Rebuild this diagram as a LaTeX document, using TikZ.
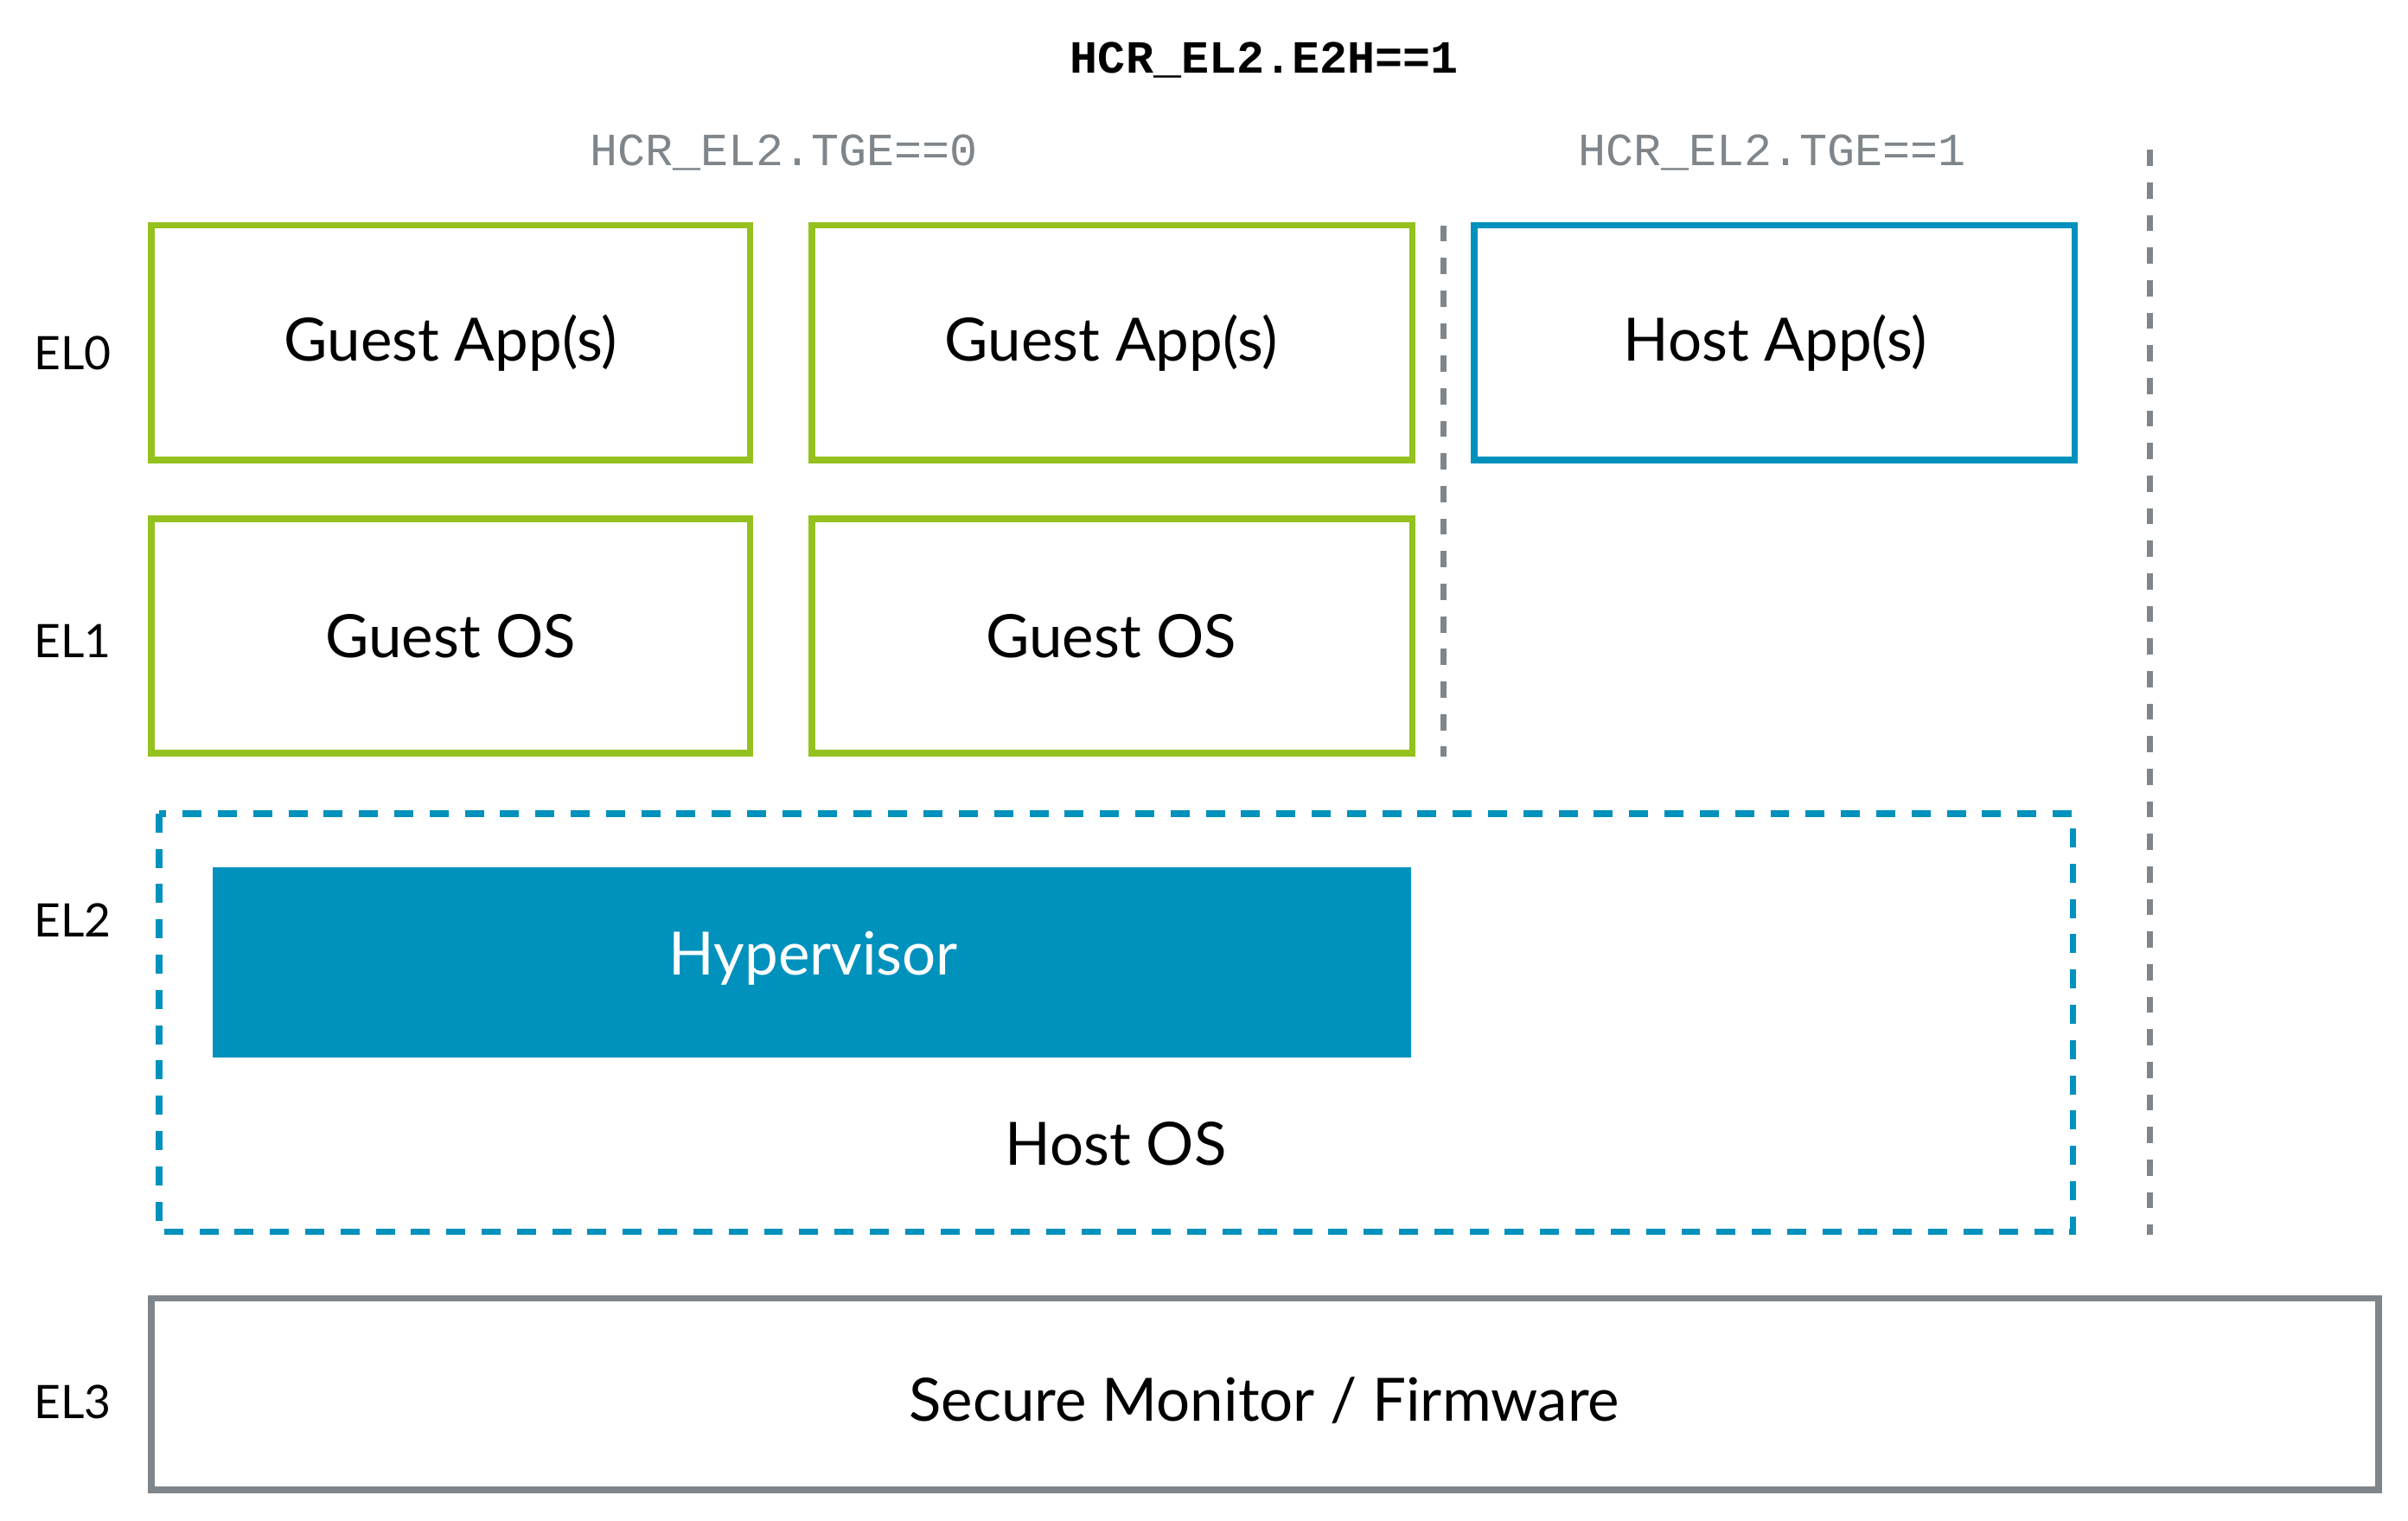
\documentclass[tikz,border=0pt]{standalone}
\usepackage{fontspec}
\setmainfont{Lato}
\newfontfamily\monofont{Liberation Mono}
\definecolor{armgreen}{HTML}{95C11F}
\definecolor{armblue}{HTML}{0091BD}
\definecolor{armgray}{HTML}{7F868B}
\begin{document}
\begin{tikzpicture}[x=0.01cm,y=-0.01cm,
  box/.style={draw=#1,line width=1.2pt},
  lbl/.style={font=\fontsize{11}{13}\selectfont},
  el/.style={font=\fontsize{8.5}{10}\selectfont},
  vsep/.style={draw=armgray,line width=1.1pt,dash pattern=on 3pt off 3pt}]
\useasboundingbox (0,0) rectangle (1560,985);
% top labels
\node[font=\monofont\bfseries\fontsize{8.5}{10}\selectfont] (e2h) at (819,39) {HCR\_EL2.E2H==1};
\node[font=\monofont\fontsize{8.5}{10}\selectfont,text=armgray] (tge0) at (508,99) {HCR\_EL2.TGE==0};
\node[font=\monofont\fontsize{8.5}{10}\selectfont,text=armgray] (tge1) at (1148,99) {HCR\_EL2.TGE==1};
% exception levels
\node[el] (el0) at (47,229) {EL0};
\node[el] (el1) at (47,415) {EL1};
\node[el] (el2) at (47,596) {EL2};
\node[el] (el3) at (47,908) {EL3};
% EL0 / EL1 boxes
\draw[box=armgreen] (98,146) rectangle (486,298);
\node[lbl] (ga1) at (292,222) {Guest App(s)};
\draw[box=armgreen] (526,146) rectangle (915,298);
\node[lbl] (ga2) at (720,222) {Guest App(s)};
\draw[box=armblue] (955,146) rectangle (1344,298);
\node[lbl] (ha) at (1150,222) {Host App(s)};
\draw[box=armgreen] (98,336) rectangle (486,488);
\node[lbl] (go1) at (292,412) {Guest OS};
\draw[box=armgreen] (526,336) rectangle (915,488);
\node[lbl] (go2) at (720,412) {Guest OS};
% separators
\draw[vsep] (935,146) -- (935,490);
\draw[vsep] (1393,97) -- (1393,800);
% EL2
\draw[draw=armblue,line width=1.2pt,dash pattern=on 3.5pt off 3pt] (103,527) rectangle (1343,798);
\fill[armblue] (138,562) rectangle (914,685);
\node[lbl,text=white] (hyp) at (527,621) {Hypervisor};
\node[lbl] (hos) at (723,741) {Host OS};
% EL3
\draw[box=armgray] (98,841) rectangle (1541,965);
\node[lbl] (smf) at (819,907) {Secure Monitor / Firmware};
\end{tikzpicture}
\end{document}
